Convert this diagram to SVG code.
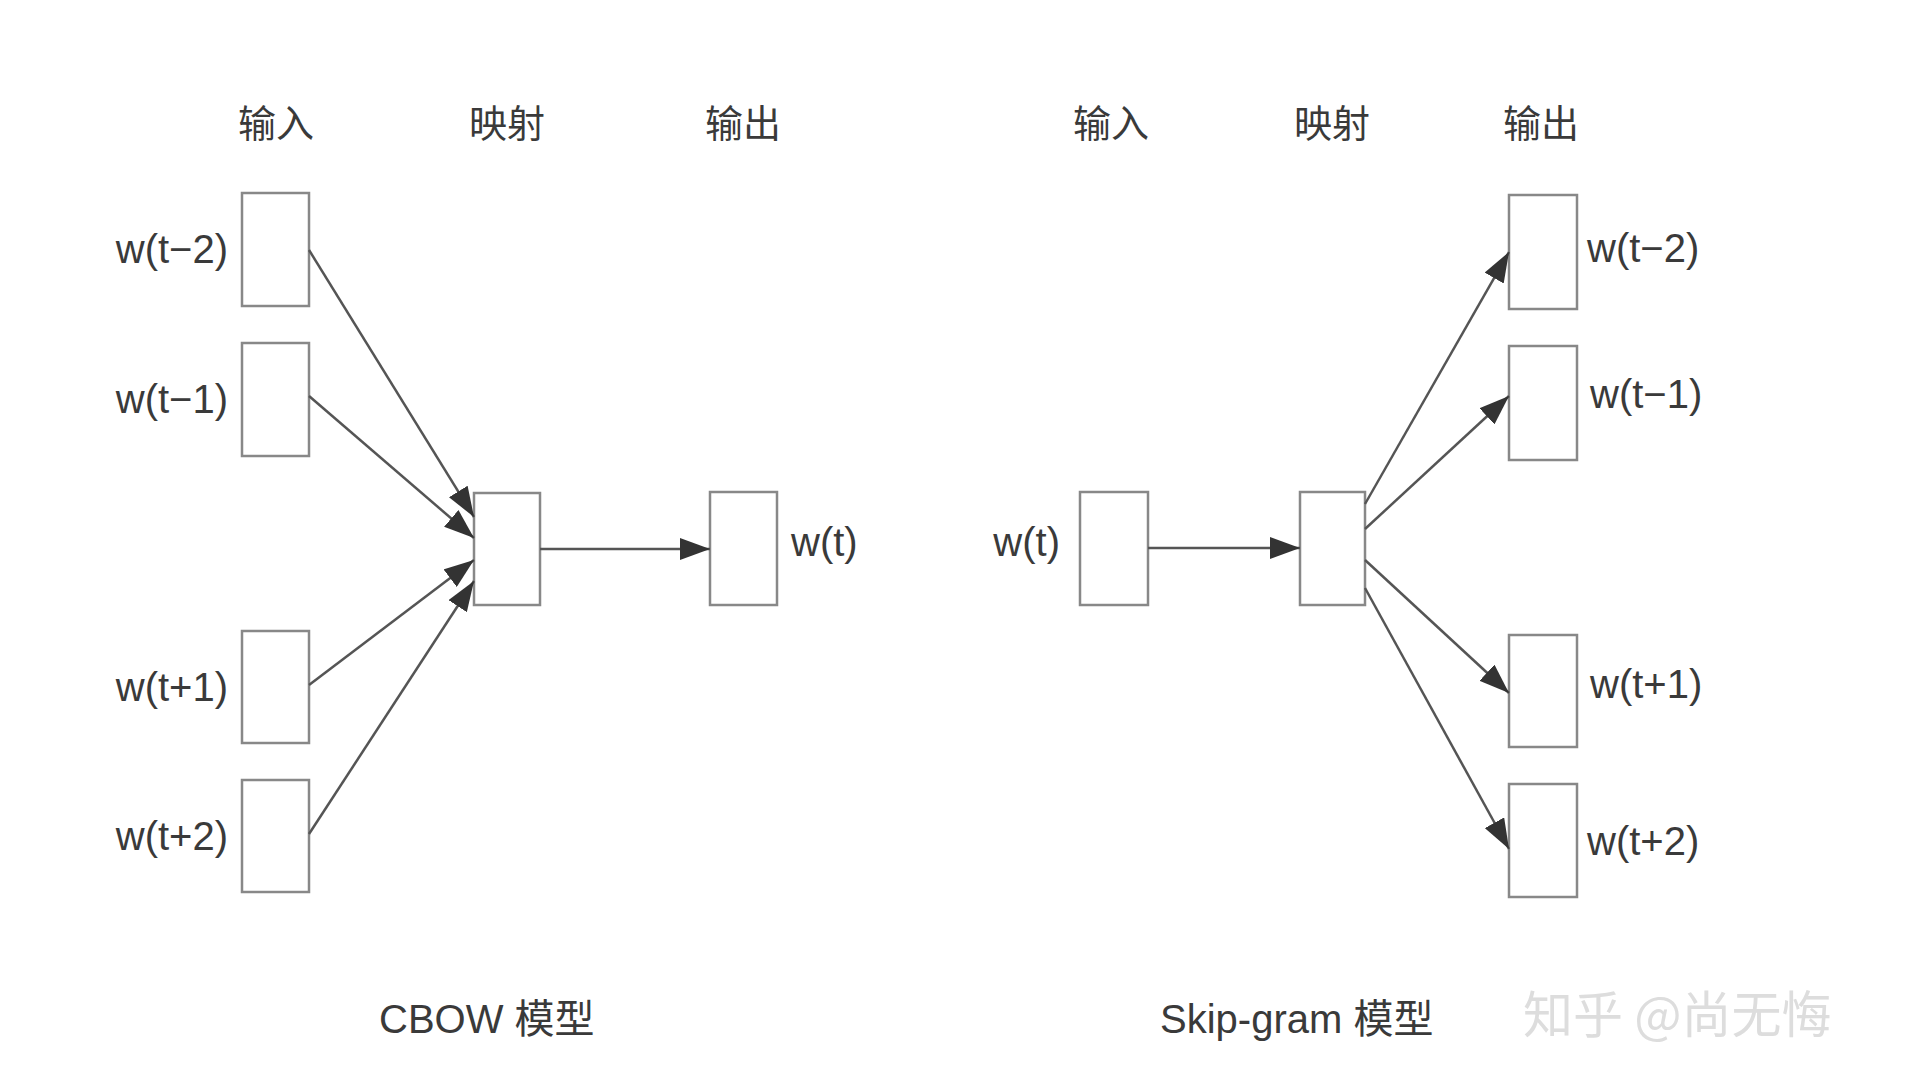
<svg xmlns="http://www.w3.org/2000/svg" width="1920" height="1080" viewBox="0 0 1920 1080">
<defs>
<marker id="ah" viewBox="0 0 10 10" refX="10" refY="5" markerWidth="8" markerHeight="8" markerUnits="userSpaceOnUse" orient="auto"><path d="M0,0 L10,5 L0,10 z" fill="#333"/></marker>
<marker id="a" viewBox="0 0 10 10" refX="10" refY="5" markerWidth="30" markerHeight="22" markerUnits="userSpaceOnUse" orient="auto" preserveAspectRatio="none"><path d="M0,0 L10,5 L0,10 z" fill="#333"/></marker>
<style>
.b{fill:#fff;stroke:#888;stroke-width:2.5}
.t{font-family:"Liberation Sans","Noto Sans CJK SC",sans-serif;font-size:40px;fill:#3a3a3a}
.h{font-family:"Noto Sans CJK SC",sans-serif;font-size:38px;fill:#3a3a3a;text-anchor:middle}
.c{fill:none;stroke:#555;stroke-width:2.5;marker-end:url(#a)}
</style>
</defs>
<rect width="1920" height="1080" fill="#fff"/>
<g id="headers">
<text class="h" x="276" y="137">输入</text><text class="h" x="507" y="137">映射</text><text class="h" x="743" y="137">输出</text>
<text class="h" x="1111" y="137">输入</text><text class="h" x="1332" y="137">映射</text><text class="h" x="1541" y="137">输出</text>
</g>
<g id="cbow_in1"><rect class="b" x="242" y="193" width="67" height="113"/><text class="t" x="228" y="263" text-anchor="end">w(t−2)</text></g>
<g id="cbow_in2"><rect class="b" x="242" y="343" width="67" height="113"/><text class="t" x="228" y="413" text-anchor="end">w(t−1)</text></g>
<g id="cbow_in3"><rect class="b" x="242" y="631" width="67" height="112"/><text class="t" x="228" y="701" text-anchor="end">w(t+1)</text></g>
<g id="cbow_in4"><rect class="b" x="242" y="780" width="67" height="112"/><text class="t" x="228" y="850" text-anchor="end">w(t+2)</text></g>
<g id="cbow_proj"><rect class="b" x="474" y="493" width="66" height="112"/></g>
<g id="cbow_out"><rect class="b" x="710" y="492" width="67" height="113"/><text class="t" x="791" y="556">w(t)</text></g>
<g id="skip_in"><rect class="b" x="1080" y="492" width="68" height="113"/><text class="t" x="1060" y="556" text-anchor="end">w(t)</text></g>
<g id="skip_proj"><rect class="b" x="1300" y="492" width="65" height="113"/></g>
<g id="skip_out1"><rect class="b" x="1509" y="195" width="68" height="114"/><text class="t" x="1587" y="262">w(t−2)</text></g>
<g id="skip_out2"><rect class="b" x="1509" y="346" width="68" height="114"/><text class="t" x="1590" y="408">w(t−1)</text></g>
<g id="skip_out3"><rect class="b" x="1509" y="635" width="68" height="112"/><text class="t" x="1590" y="698">w(t+1)</text></g>
<g id="skip_out4"><rect class="b" x="1509" y="784" width="68" height="113"/><text class="t" x="1587" y="855">w(t+2)</text></g>
<g id="connectors">
<line class="c" x1="309" y1="250" x2="474" y2="517"/>
<line class="c" x1="309" y1="396" x2="474" y2="538"/>
<line class="c" x1="309" y1="685" x2="474" y2="560"/>
<line class="c" x1="309" y1="834" x2="474" y2="581"/>
<line class="c" x1="540" y1="549" x2="710" y2="549"/>
<line class="c" x1="1148" y1="548" x2="1300" y2="548"/>
<line class="c" x1="1365" y1="504" x2="1509" y2="252"/>
<line class="c" x1="1365" y1="529" x2="1509" y2="396"/>
<line class="c" x1="1365" y1="560" x2="1509" y2="693"/>
<line class="c" x1="1365" y1="588" x2="1509" y2="849"/>
</g>
<g id="captions">
<text class="t" x="379" y="1033">CBOW 模型</text>
<text class="t" x="1160" y="1033">Skip-gram 模型</text>
<text x="1523" y="1033" style="font-family:'Noto Sans CJK SC',sans-serif;font-size:50px;fill:#ddd">知乎 @尚无悔</text>
</g>
</svg>
